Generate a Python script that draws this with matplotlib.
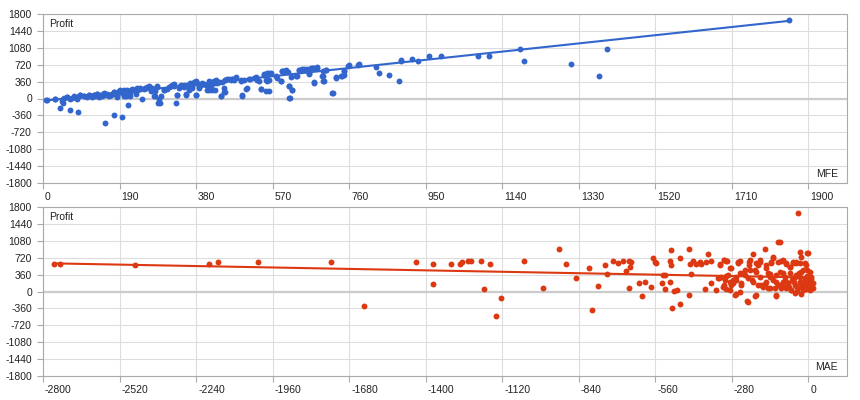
import numpy as np
import matplotlib
matplotlib.use('Agg')
import matplotlib.pyplot as plt
from matplotlib.transforms import ScaledTranslation

plt.rcParams['font.family'] = ['Liberation Sans', 'DejaVu Sans']
plt.rcParams['axes.unicode_minus'] = False

# ---- MFE vs Profit (top chart) ----
mfe = [9, 31, 43, 47, 49, 50, 60, 68, 76, 85, 89, 93, 101, 109, 114, 118, 122, 126, 130, 134,
       138, 143, 147, 151, 155, 159, 163, 167, 172, 176, 180, 184, 188, 192, 196, 201, 205, 209, 213, 217,
       221, 225, 230, 234, 238, 242, 246, 250, 254, 259, 263, 267, 271, 275, 279, 283, 288, 290, 292, 300,
       308, 312, 317, 321, 325, 329, 333, 337, 341, 346, 350, 354, 358, 366, 370, 375, 379, 379, 387, 391,
       399, 408, 412, 416, 420, 424, 428, 433, 441, 445, 449, 453, 457, 466, 470, 474, 491, 495, 499, 507,
       515, 524, 532, 540, 549, 553, 557, 557, 561, 561, 565, 582, 590, 594, 598, 602, 607, 611, 611, 615,
       619, 631, 636, 648, 656, 660, 665, 669, 673, 677, 681, 694, 694, 698, 702, 718, 727, 739, 747, 747,
       760, 781, 785, 826, 834, 859, 884, 888, 888, 917, 930, 959,
       66, 86, 153, 177, 196, 211, 285,
       988, 1081, 1106, 1183, 1195, 1311, 1379, 1400, 1852,
       8, 31, 52, 60, 72, 76, 93, 101, 114, 126, 134, 143, 151, 159, 168, 176, 184, 192, 201, 209,
       217, 225, 234, 242, 255, 267, 279, 284, 300, 317, 325, 333, 342, 350, 356, 362,
       358, 362, 366, 371, 375, 379, 383, 387, 395, 404, 408, 412, 420, 424, 429, 437, 443, 449, 452, 453,
       462, 470, 478, 491, 495, 505, 511, 528, 535, 540, 549, 553, 557, 561, 578, 590, 594, 603, 611, 613,
       617, 627, 636, 644, 652, 661, 669, 673, 681, 692, 695, 702, 720, 727, 743, 748, 758]
mfe_profit = [-42, -14, -212, -57, -106, 0, 28, 0, 35, 0, 49, 64, 49, 35, 71, 49, 35, 78, 49, 99,
              35, 64, 49, 85, 99, 64, 49, 71, 99, 134, 106, 49, 155, 191, 120, 177, 49, 85, 155, 120,
              205, 191, 106, 177, 205, 226, -7, 205, 226, 247, 261, 191, 226, 49, 155, 247, -21, -92, 49, 177,
              205, 247, 261, 297, 276, -92, 85, 226, 276, 276, 247, 85, 297, 247, 261, 332, 367, 64, 261, 297,
              318, 297, 191, 276, 346, 367, 191, 332, 49, 346, 134, 403, 417, 403, 417, 389, 403, 49, 403, 226,
              417, 438, 403, 205, 530, 389, 509, 544, 155, 403, 544, 438, 367, 580, 580, 580, 558, 14, 276, 459,
              191, 488, 615, 629, 636, 530, 650, 650, 346, 650, 650, 473, 580, 367, 615, 120, 438, 473, 509, 580,
              707, 721, 742, 671, 544, 509, 367, 792, 827, 841, 806, 897,
              -254, -290, -530, -360, -389, -148, -92,
              897, 897, 912, 1053, 806, 735, 488, 1060, 1682,
              -42, -7, 14, 28, 14, 49, 71, 49, 71, 85, 99, 85, 120, 99, 85, 141, 28, 170, 49, 191,
              49, 191, 226, 212, 226, 155, 49, 261, 191, 261, 311, 85, 283, 283, 99, 261,
              261, 191, 332, 226, 346, 64, 332, 226, 332, 297, 191, 367, 191, 332, 389, 346, 49, 226, 134, 389,
              417, 417, 459, 367, 64, 205, 417, 459, 367, 205, 509, 155, 367, 544, 473, 367, 580, 601, 261, 14,
              191, 488, 615, 629, 615, 544, 650, 332, 671, 488, 367, 601, 120, 459, 488, 580, 700]
# trendline reported by the chart (slope, intercept)
mfe_trend = (0.92, -50)

# ---- MAE vs Profit (bottom chart) ----
mae = [-2759, -2739, -2463, -2191, -2161, -2012, -1746, -1626, -1434,
       -1374, -1374, -1307, -1276, -1268, -1246, -1234, -1199, -1187, -1166, -1141, -1124, -1041, -971, -913, -887,
       -849, -802, -793, -770, -743, -736, -715, -697, -678, -666, -658, -654, -648, -658, -621, -609, -599, -575,
       -568, -562, -556, -536, -532, -526, -524, -508, -504, -501, -498, -506, -490, -481, -471, -469, -438, -438,
       -434, -428, -422, -410, -398, -392, -380, -369, -373, -355, -355, -339, -327, -322, -308, -297, -300, -308,
       -303, -288, -282, -276, -270, -264, -257, -251, -245, -239, -233, -223, -218, -208, -203, -196, -194, -184,
       -178, -172, -157, -154, -148, -142, -135, -129, -123, -117, -111, -105, -101, -93, -87, -81, -74, -68, -62,
       -56, -50, -44, -38, -32, -28, -26, -20, -13, -7, -4, -1, 5, 5, 5,
       -310, -300, -325, -282, -257, -251, -215, -217, -190, -178, -154, -135, -129, -111, -93, -81, -68, -56,
       -44, -32, -13, -5, -331, -318, -306, -294, -288, -276, -264, -251, -245, -233, -221, -215, -203, -190,
       -184, -178, -166, -154, -148, -142, -129, -117, -111, -105, -99, -93, -87, -81, -74, -68, -62, -56, -50,
       -44, -38, -32, -26, -20, -13, -7, -1, 5, -190, -221, -264, -288, -312, -117, -50, -26, 11, 17, 17,
       -60, -45, -30, -15, -8, 0, -70, -95, -40, -22, -5, -52, -85, -35, -18, 8, 10, -120, -140, -160]
mae_profit = [580, 580, 565, 580, 636, 636, 636, -304, 636,
              580, 155, 580, 580, 636, 650, 650, 650, 49, 580, -530, -141, 650, 85, 898, 580,
              283, 509, -389, 120, 565, 375, 657, 615, 650, 445, 650, 530, 636, 71, 177, -92, 212, 106,
              707, 636, 615, 191, 353, 353, 49, 650, 565, 883, -360, 212, 21, 35, -261, 721, 898, -71,
              580, 375, 650, 580, 636, 580, 49, 799, 636, 650, 191, 35, 283, 580, 671, 650, 332, 141,
              49, 495, 141, 247, -71, 318, 636, 0, 177, 389, 459, -212, 636, 247, 799, 459, -106, 565,
              636, 141, 898, 565, 71, 375, 636, 728, 71, -106, 1060, 1060, 650, 389, 106, 601, 177, 530, 35,
              636, 318, 601, 1675, 848, 177, 728, 459, 247, 565, 813, 813, 424, 177, 71,
              671, 650, 565, 495, 601, 650, 671, 565, 601, 671, 495, 601, 721, 636, 671, 580, 530, 601,
              636, 601, 601, 459, 283, 318, 247, 353, 212, 177, 247, 389, 141, 353, 283, 459, 212, 424,
              141, 318, 106, 212, 389, 71, 247, 353, 141, 424, 71, 212, 318, 71, 177, 389, 35, 283, 141,
              353, 71, 212, 424, 71, 283, 106, 177, 35, -85, -226, -57, 35, 106, -71, -35, -57, 318, 71, 177,
              250, 120, 300, 180, 60, 250, 100, 150, 20, 130, 330, 200, 250, 400, 30, 120, 260, 200, 300, 160]
mae_trend = (-0.109, 298)

mfe_ticks = list(range(0, 1901, 190))
mae_ticks = list(range(-2800, 1, 280))
profit_ticks = list(range(-1800, 1801, 360))

BLUE = '#3366cc'
RED = '#dc3912'

fig = plt.figure(figsize=(8.6, 4), dpi=100)
ax1 = fig.add_axes([0.05, 0.5425, 0.9345, 0.4225])
ax2 = fig.add_axes([0.05, 0.06, 0.9345, 0.4225])


def style(ax, xticks, xlim, xlabel, color, x, y, trend):
    ax.set_xlim(*xlim)
    ax.set_ylim(-1800, 1800)
    ax.set_xticks(xticks)
    ax.set_yticks(profit_ticks)
    ax.grid(True, color='#dddddd', lw=0.8)
    ax.set_axisbelow(True)
    ax.axhline(0, color='#cccccc', lw=1.6, zorder=1)
    for s in ax.spines.values():
        s.set_color('#aaaaaa')
        s.set_linewidth(0.8)
    ax.tick_params(colors='#aaaaaa', labelcolor='#222222', labelsize=7.5, length=4, width=0.8)
    ax.tick_params(axis='y', pad=4)
    ax.tick_params(axis='x', pad=2.5)
    offset = ScaledTranslation(2 / 100, 0, fig.dpi_scale_trans)
    for lab in ax.get_xticklabels():
        lab.set_horizontalalignment('left')
        lab.set_transform(lab.get_transform() + offset)
    xa = np.asarray(x, float)
    ya = np.asarray(y, float)
    ax.scatter(xa, ya, s=18, color=color, zorder=3, linewidths=0)
    xs = np.array([xa.min(), xa.max()])
    ax.plot(xs, trend[0] * xs + trend[1], color=color, lw=1.5, zorder=4)
    ax.annotate('Profit', xy=(0, 1), xycoords='axes fraction', xytext=(6, -10),
                textcoords='offset pixels', ha='left', va='center', fontsize=7.5, color='#222222')
    ax.annotate(xlabel, xy=(1, 0), xycoords='axes fraction', xytext=(-9, 9),
                textcoords='offset pixels', ha='right', va='center', fontsize=7.5, color='#222222')


style(ax1, mfe_ticks, (0, 1995), 'MFE', BLUE, mfe, mfe_profit, mfe_trend)
style(ax2, mae_ticks, (-2800, 140), 'MAE', RED, mae, mae_profit, mae_trend)

fig.savefig('out.png', dpi=100, facecolor='white')
